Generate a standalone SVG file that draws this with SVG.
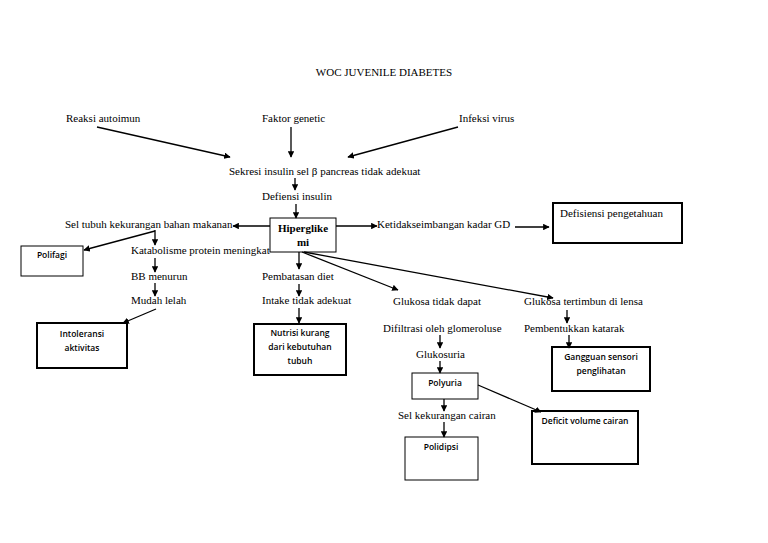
<svg xmlns="http://www.w3.org/2000/svg" width="768" height="543" viewBox="0 0 768 543">
<defs>
<marker id="ah" viewBox="0 0 10 10" refX="9" refY="5" markerWidth="5" markerHeight="5" orient="auto"><path d="M0,0 L10,5 L0,10 z" fill="#000"/></marker>
<style>
.t{font-family:"Liberation Serif",serif;font-size:11px;fill:#000}
.s{font-family:"Open Sans","Liberation Sans",sans-serif;font-size:8.5px;font-weight:600;fill:#000;text-anchor:middle}
.b{fill:#fff;stroke:#000;stroke-width:1}
.k{fill:#fff;stroke:#000;stroke-width:2}
.c line{stroke:#000;stroke-width:1.3;marker-end:url(#ah)}
.c line.n{marker-end:none}
</style>
</defs>
<rect width="768" height="543" fill="#fff"/>
<text class="t" x="384" y="76" text-anchor="middle">WOC JUVENILE DIABETES</text>
<g id="texts">
<text class="t" x="66" y="122">Reaksi autoimun</text>
<text class="t" x="262" y="122">Faktor genetic</text>
<text class="t" x="459" y="122">Infeksi virus</text>
<text class="t" x="229" y="175">Sekresi insulin sel β pancreas tidak adekuat</text>
<text class="t" x="262" y="200">Defiensi insulin</text>
<text class="t" x="65" y="228">Sel tubuh kekurangan bahan makanan</text>
<text class="t" x="131" y="254">Katabolisme protein meningkat</text>
<text class="t" x="131" y="280">BB menurun</text>
<text class="t" x="131" y="304">Mudah lelah</text>
<text class="t" x="262" y="280">Pembatasan diet</text>
<text class="t" x="262" y="304">Intake tidak adekuat</text>
<text class="t" x="377" y="228">Ketidakseimbangan kadar GD</text>
<text class="t" x="393" y="305">Glukosa tidak dapat</text>
<text class="t" x="524" y="305">Glukosa tertimbun di lensa</text>
<text class="t" x="383" y="332">Difiltrasi oleh glomeroluse</text>
<text class="t" x="416" y="358">Glukosuria</text>
<text class="t" x="524" y="332">Pembentukkan katarak</text>
<text class="t" x="398" y="419">Sel kekurangan cairan</text>
</g>
<g id="hiperglikemi"><rect class="b" x="270" y="218" width="66" height="34"/>
<text class="t" x="303" y="232" text-anchor="middle" font-weight="bold">Hiperglike</text>
<text class="t" x="303" y="246" text-anchor="middle" font-weight="bold">mi</text></g>
<g id="polifagi"><rect class="b" x="21" y="246" width="62" height="30"/><text class="s" x="52" y="258">Polifagi</text></g>
<g id="intoleransi"><rect class="k" x="37" y="323" width="90" height="45"/><text class="s" x="82" y="337">Intoleransi</text><text class="s" x="82" y="351">aktivitas</text></g>
<g id="nutrisi"><rect class="k" x="254" y="324" width="92" height="51"/><text class="s" x="300" y="336">Nutrisi kurang</text><text class="s" x="300" y="350">dari kebutuhan</text><text class="s" x="300" y="364">tubuh</text></g>
<g id="defisiensi"><rect class="k" x="553" y="203" width="129" height="40"/><text class="t" x="560" y="217">Defisiensi pengetahuan</text></g>
<g id="polyuria"><rect class="b" x="412" y="373" width="66" height="26"/><text class="s" x="445" y="386">Polyuria</text></g>
<g id="gangguan"><rect class="k" x="552" y="347" width="98" height="44"/><text class="s" x="601" y="360">Gangguan sensori</text><text class="s" x="601" y="374">penglihatan</text></g>
<g id="deficit"><rect class="k" x="532" y="411" width="106" height="53"/><text class="s" x="585" y="424">Deficit volume cairan</text></g>
<g id="polidipsi"><rect class="b" x="405" y="437" width="73" height="43"/><text class="s" x="441" y="450">Polidipsi</text></g>
<g id="connectors" class="c">
<line x1="97" y1="127" x2="230" y2="157"/>
<line x1="291" y1="127" x2="291" y2="157"/>
<line x1="458" y1="127" x2="348" y2="157"/>
<line x1="295" y1="178" x2="295" y2="190"/>
<line x1="296" y1="204" x2="296" y2="218"/>
<line x1="270" y1="226" x2="233" y2="226"/>
<line class="n" x1="155" y1="230" x2="155" y2="231"/>
<line x1="155" y1="231" x2="84" y2="250"/>
<line x1="155" y1="231" x2="155" y2="245"/>
<line x1="155" y1="258" x2="155" y2="272"/>
<line x1="155" y1="283" x2="155" y2="296"/>
<line x1="156" y1="309" x2="123" y2="323"/>
<line x1="299" y1="252" x2="299" y2="269"/>
<line x1="299" y1="284" x2="299" y2="296"/>
<line x1="299" y1="308" x2="299" y2="323"/>
<line x1="336" y1="226" x2="377" y2="226"/>
<line x1="515" y1="227" x2="549" y2="227"/>
<line x1="302" y1="252" x2="398" y2="290"/>
<line x1="304" y1="252" x2="553" y2="298"/>
<line x1="440" y1="335" x2="440" y2="348"/>
<line x1="440" y1="361" x2="440" y2="373"/>
<line x1="567" y1="310" x2="567" y2="323"/>
<line x1="569" y1="335" x2="569" y2="348"/>
<line x1="478" y1="385" x2="541" y2="412"/>
<line x1="444" y1="399" x2="444" y2="411"/>
<line x1="444" y1="422" x2="444" y2="437"/>
</g>
</svg>
